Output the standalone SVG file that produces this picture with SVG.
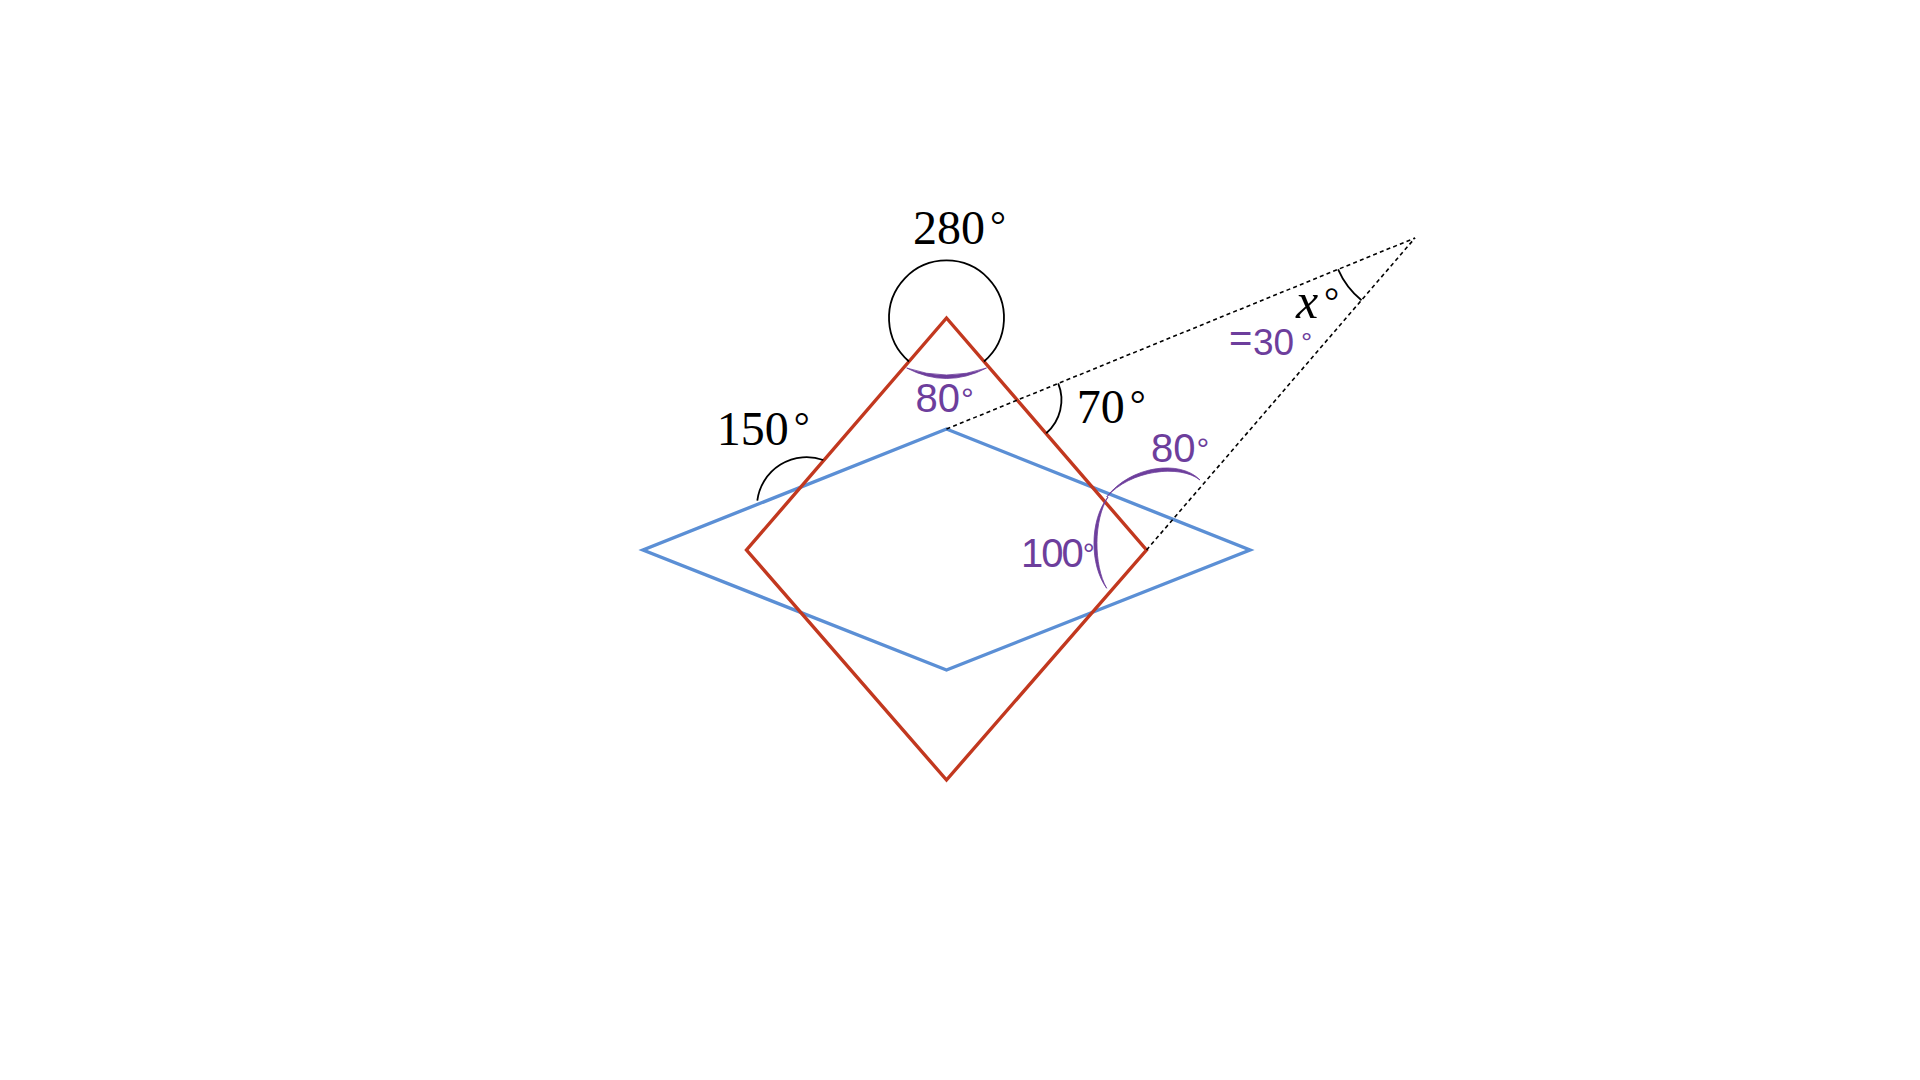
<svg xmlns="http://www.w3.org/2000/svg" width="1920" height="1080" viewBox="0 0 1920 1080">
<style>
.bg{fill:#ffffff}
.blue{fill:none;stroke:#5b8fd5;stroke-width:3.4;stroke-linejoin:miter}
.red{fill:none;stroke:#c2381f;stroke-width:3.4;stroke-linejoin:miter}
.dot{fill:none;stroke:#000;stroke-width:1.6;stroke-dasharray:4 3.2}
.arc{fill:none;stroke:#000;stroke-width:1.8}
.parc{fill:#6d3e9c;stroke:#6d3e9c;stroke-width:0.8;stroke-linejoin:round}
.lbl{font-family:"Liberation Serif","Times New Roman",serif;font-size:48px;fill:#000}
.deg{font-size:40px}
.mx{font-family:"Liberation Serif","Times New Roman",serif;font-size:50px;font-style:italic;fill:#000}
.plbl{font-family:"Liberation Sans",Arial,sans-serif;font-size:40px;fill:#6d3e9c}
</style>
<rect class="bg" x="0" y="0" width="1920" height="1080"/>
<g id="blue-rhombus">
<polygon class="blue" points="946.5,429 1250,550 946.5,670 643,550"/>
</g>
<g id="red-rhombus">
<polygon class="red" points="946.5,318 1146.5,550 946.5,780 746.5,550"/>
</g>
<g id="connectors">
<line class="dot" x1="946.5" y1="429" x2="1415" y2="238"/>
<line class="dot" x1="1146.5" y1="550" x2="1415" y2="238"/>
</g>
<g id="angle-marks">
<path class="arc" d="M909,361.5 A57.5,57.5 0 1 1 984,361.5"/>
<path class="arc" d="M757.3,500.7 A49.7,49.7 0 0 1 823.3,460"/>
<path class="arc" d="M1058.2,383.4 A44,44 0 0 1 1046.2,433.3"/>
<path class="arc" d="M1338.1,269.3 A82,82 0 0 0 1361.5,300.2"/>
</g>
<g id="purple-marks">
<path class="parc" d="M906.7,368 Q946.5,389 986.5,368 Q946.5,382 906.7,368 Z"/>
<path class="parc" d="M1106.7,497 C1130,466 1180,459 1200,480 C1180,464 1130,470 1106.7,497 Z"/>
<path class="parc" d="M1108,497 C1089.5,520 1089.5,565 1106.7,588.3 C1093.5,565 1093.5,520 1108,497 Z"/>
</g>
<g id="labels">
<text class="lbl" x="913" y="244">280<tspan class="deg" dx="5" dy="-5">°</tspan></text>
<text class="lbl" x="716.7" y="445">150<tspan class="deg" dx="5" dy="-5">°</tspan></text>
<text class="lbl" x="1076.7" y="423">70<tspan class="deg" dx="5" dy="-5">°</tspan></text>
<text class="mx" x="1296" y="318">x<tspan font-style="normal" font-size="38" x="1324" dy="-4">°</tspan></text>
<text class="plbl" x="915.5" y="411.7">80<tspan font-size="32" dx="1" dy="-2">°</tspan></text>
<text class="plbl" x="1151" y="461.7">80<tspan font-size="32" dx="1" dy="-2">°</tspan></text>
<text class="plbl" x="1021" y="566.7" font-size="38" letter-spacing="-2">100<tspan font-size="30" dx="1" dy="-3">°</tspan></text>
<text class="plbl" x="1229" y="352" font-size="22">=<tspan font-size="37" x="1253" y="355">30</tspan><tspan font-size="28" x="1301" y="352">°</tspan></text>
</g>
</svg>
